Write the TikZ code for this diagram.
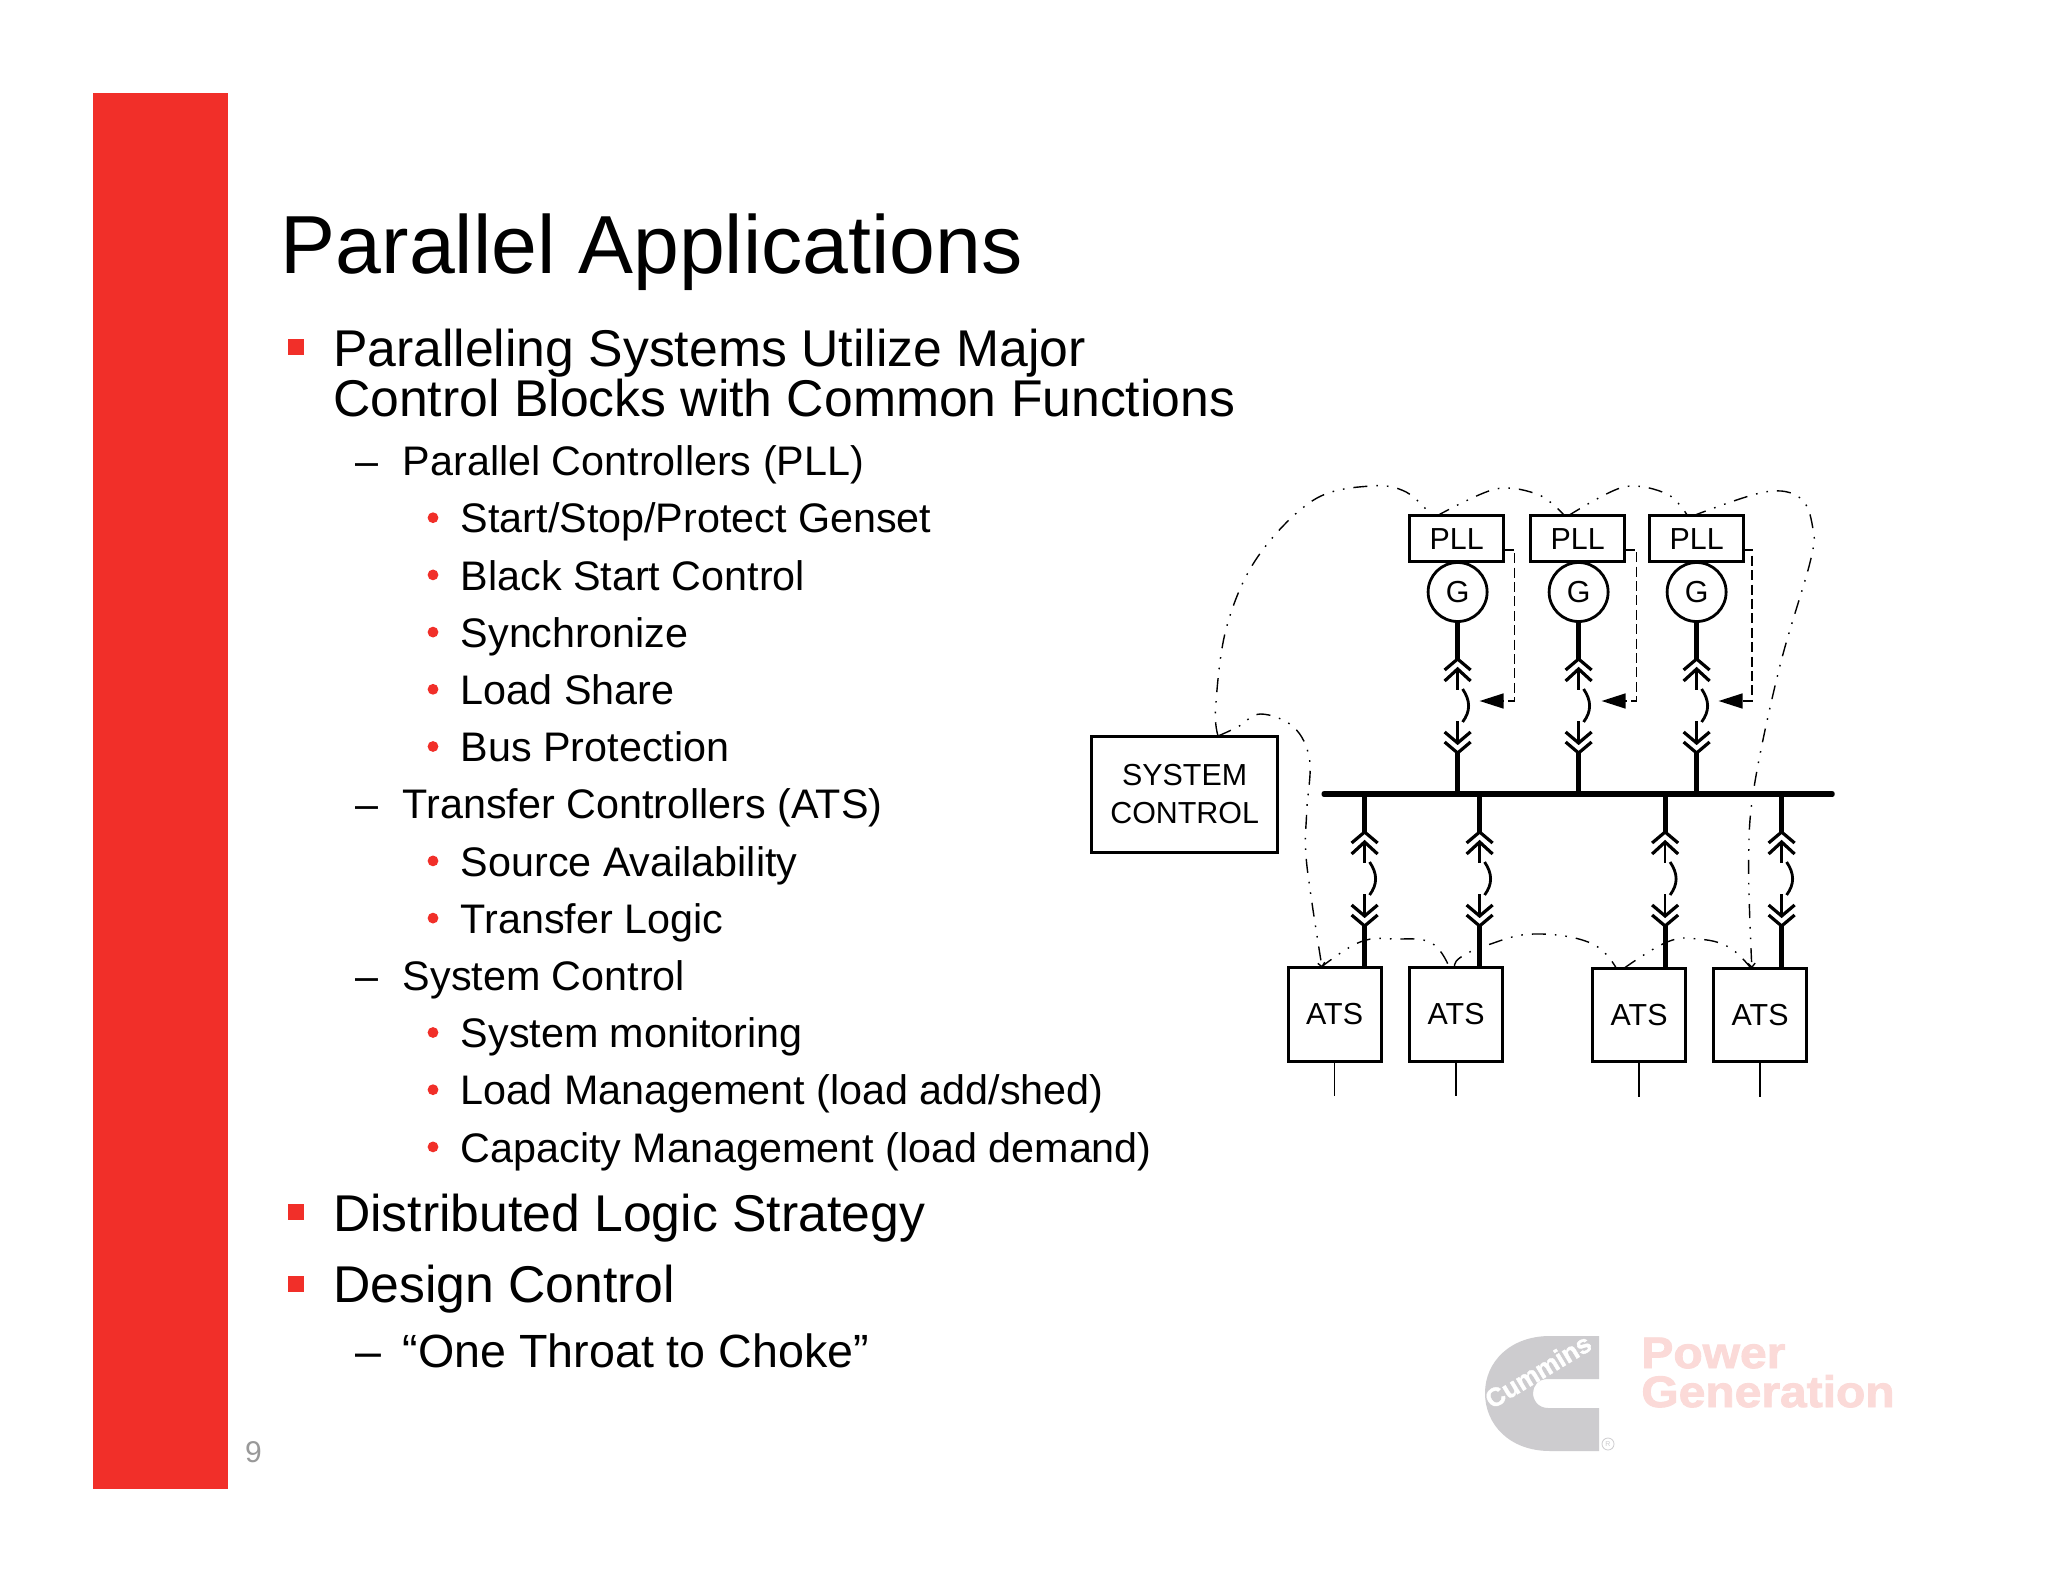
\documentclass[tikz,border=0pt]{standalone}
\usepackage{fontspec}
\setmainfont{Liberation Sans}
\newfontfamily\heavyfont[FakeBold=2,FakeStretch=1.09]{Liberation Sans Bold}
\newfontfamily\logofont[FakeBold=1.5]{Liberation Sans Bold}
\usetikzlibrary{arrows.meta,calc}
\definecolor{barred}{HTML}{F12F29}
\definecolor{logogrey}{HTML}{CDCCCF}
\definecolor{logopink}{HTML}{FBDAD8}
\tikzset{
  titletext/.style={anchor=base west,inner sep=0pt,font=\fontsize{41.2pt}{41.2pt}\selectfont},
  lone/.style={anchor=base west,inner sep=0pt,yshift=-.4pt,font=\fontsize{25.85pt}{25.85pt}\selectfont},
  ltwo/.style={anchor=base west,inner sep=0pt,yshift=-.6pt,font=\fontsize{20.65pt}{20.65pt}\selectfont},
  lthree/.style={anchor=base west,inner sep=0pt,yshift=-.6pt,font=\fontsize{20.65pt}{20.65pt}\selectfont},
  lbig/.style={anchor=base west,inner sep=0pt,yshift=-.6pt,font=\fontsize{23.3pt}{23.3pt}\selectfont},
  sqbullet/.style={fill=barred,inner sep=0pt,minimum width=8pt,minimum height=8pt},
  rdbullet/.style={circle,fill=barred,inner sep=0pt,minimum size=5.4pt},
  blockbox/.style={draw,line width=1.5pt,inner sep=0pt,outer sep=0pt,align=center,font=\fontsize{15.2pt}{18.7pt}\selectfont},
  pllbox/.style={blockbox,minimum width=47pt,minimum height=23pt},
  atsbox/.style={blockbox,minimum width=46.5pt,minimum height=46.7pt},
  sysbox/.style={blockbox,minimum width=93pt,minimum height=58pt},
  gencircle/.style={circle,draw,line width=1.4pt,inner sep=0pt,outer sep=0pt,minimum size=29.5pt,font=\fontsize{15.2pt}{15.2pt}\selectfont},
  busbar/.style={fill=black,rounded corners=1pt,inner sep=0pt,outer sep=0pt,minimum width=256.5pt,minimum height=2.8pt},
  feeder/.style={line width=2.5pt},
  stub/.style={line width=.7pt},
  ctlline/.style={line width=.75pt,dash pattern=on 5pt off 2.2pt},
  commline/.style={line width=.7pt,dash pattern=on 7pt off 4.5pt on .8pt off 4.5pt on .8pt off 4.5pt},
  breaker/.pic={
    \draw[line width=1.6pt] (-13,11)--(0,0)--(13,11);
    \draw[line width=1.6pt] (-13,22)--(0,10)--(13,22);
    \draw[line width=1.2pt] (0,10)--(0,31);
    \draw[line width=1.4pt] (5,30) .. controls (13,42) and (13,52) .. (5,63);
    \draw[line width=1.2pt] (0,62)--(0,84);
    \draw[line width=1.6pt] (-13,73)--(0,84)--(13,73);
    \draw[line width=1.6pt] (-13,83)--(0,94)--(13,83);
  }
}
\begin{document}
\begin{tikzpicture}[x=0.5pt,y=-0.5pt]
\useasboundingbox (0,0) rectangle (2048,1582);
\fill[white] (0,0) rectangle (2048,1582);
\fill[barred] (93,93) rectangle (227.5,1489);
\node[anchor=base,inner sep=0pt,text=black!40,font=\fontsize{15pt}{15pt}\selectfont] (pagenum) at (253.5,1462) {9};

\node[titletext] (title) at (280.4,274) {Parallel Applications};

\node[sqbullet] (b1) at (296.3,347) {};
\node[lone] (t1a) at (332.7,366) {Paralleling Systems Utilize Major};
\node[lone] (t1b) at (332.7,416) {Control Blocks with Common Functions};
\node[ltwo] (d1) at (355,474.5) {–};
\node[ltwo] (t2) at (402.4,474.5) {Parallel Controllers (PLL)};
\node[rdbullet] (b3) at (433,517.7) {};
\node[lthree] (t3) at (460.4,531.7) {Start/Stop/Protect Genset};
\node[rdbullet] (b4) at (433,574.9) {};
\node[lthree] (t4) at (460.4,588.9) {Black Start Control};
\node[rdbullet] (b5) at (433,632.1) {};
\node[lthree] (t5) at (460.4,646.1) {Synchronize};
\node[rdbullet] (b6) at (433,689.3) {};
\node[lthree] (t6) at (460.4,703.3) {Load Share};
\node[rdbullet] (b7) at (433,746.5) {};
\node[lthree] (t7) at (460.4,760.5) {Bus Protection};
\node[ltwo] (d2) at (355,817.7) {–};
\node[ltwo] (t8) at (402.4,817.7) {Transfer Controllers (ATS)};
\node[rdbullet] (b9) at (433,860.9) {};
\node[lthree] (t9) at (460.4,874.9) {Source Availability};
\node[rdbullet] (b10) at (433,918.1) {};
\node[lthree] (t10) at (460.4,932.1) {Transfer Logic};
\node[ltwo] (d3) at (355,989.3) {–};
\node[ltwo] (t11) at (402.4,989.3) {System Control};
\node[rdbullet] (b12) at (433,1032.5) {};
\node[lthree] (t12) at (460.4,1046.5) {System monitoring};
\node[rdbullet] (b13) at (433,1089.7) {};
\node[lthree] (t13) at (460.4,1103.7) {Load Management (load add/shed)};
\node[rdbullet] (b14) at (433,1146.9) {};
\node[lthree] (t14) at (460.4,1160.9) {Capacity Management (load demand)};
\node[sqbullet] (b15) at (296.3,1212.2) {};
\node[lone] (t15) at (332.7,1231) {Distributed Logic Strategy};
\node[sqbullet] (b16) at (296.3,1283.5) {};
\node[lone] (t16) at (332.7,1301.7) {Design Control};
\node[lbig] (d4) at (355,1366.7) {–};
\node[lbig] (t17) at (402.4,1366.7) {“One Throat to Choke”};

\begin{scope}[xshift=-.7pt]
% diagram
\node[pllbox] (pll1) at (1458,539) {PLL};
\node[pllbox] (pll2) at (1579,539) {PLL};
\node[pllbox] (pll3) at (1698,539) {PLL};
\node[gencircle] (g1) at (1459,592) {G};
\node[gencircle] (g2) at (1580,592) {G};
\node[gencircle] (g3) at (1698,592) {G};
\node[busbar] (bus) at (1579.5,794) {};
\node[sysbox] (sys) at (1186,794) {SYSTEM\\CONTROL};
\node[atsbox] (ats1) at (1336,1014.5) {ATS};
\node[atsbox] (ats2) at (1457.5,1014.5) {ATS};
\node[atsbox] (ats3) at (1640.5,1015) {ATS};
\node[atsbox] (ats4) at (1761.5,1015) {ATS};

% generator feeders
\foreach \i/\x in {1/1459,2/1580,3/1698}{
  \coordinate (gt\i) at (\x,659);
  \coordinate (gb\i) at (\x,753);
  \draw[feeder] (g\i) -- (gt\i);
  \draw[feeder] (gb\i) -- (g\i |- bus.center);
  \pic at (gt\i) {breaker};
}
% ATS feeders
\foreach \i/\x in {1/1366,2/1481,3/1666.5,4/1783}{
  \coordinate (at\i) at (\x,832);
  \coordinate (ab\i) at (\x,926);
  \draw[feeder] (at\i |- bus.center) -- (at\i);
  \draw[feeder] (ab\i) -- (ab\i |- ats\i.north);
  \pic at (at\i) {breaker};
}
% stubs
\foreach \i in {1,2,3,4}{
  \coordinate (s\i) at ($(ats\i.south)+(0,35)$);
  \draw[stub] (ats\i.south) -- (s\i);
}
% breaker control
\foreach \i/\x/\t in {1/1516/1481,2/1638/1603,3/1753.5/1720}{
  \coordinate (cc\i) at (\x,701);
  \coordinate (ct\i) at (\t,701);
  \draw[ctlline,-{Triangle[length=12pt,width=7.5pt]}] (pll\i.-13) -| (cc\i) -- (ct\i);
}
% communication loop
\draw[commline] plot[smooth,tension=.6] coordinates {(sys.60) (1217,707) (1228,627) (1259,557) (1315,500) (1372,486) (1407.5,492) (pll1.137)};
\draw[commline] plot[smooth,tension=.55] coordinates {(pll1.131) (1497,489) (1540.6,495) (pll2.119)};
\draw[commline] plot[smooth,tension=.55] coordinates {(pll2.113) (1625,487) (1668.5,494) (pll3.111)};
\draw[commline,-{Straight Barb[length=2pt,width=3.5pt]}] plot[smooth,tension=.6] coordinates {(pll3.100) (1766,492) (1801.6,498) (1814,527) (1812,560) (1781,667) (1755.5,787) (1750,863) (ats4.100)};
\draw[commline,-{Straight Barb[length=2pt,width=3.5pt]}] plot[smooth,tension=.6] coordinates {(sys.60) (1239,727) (1262,714) (1295,727) (1311,760) (1308,813) (1308,863) (ats1.105)};
\draw[commline] plot[smooth,tension=.7] coordinates {(ats1.107) (1361.5,942) (1397,939) (1433,943) (ats2.98)};
\draw[commline] plot[smooth,tension=.7] coordinates {(ats2.92) (1461,958) (1489,945) (1535.5,934) (1592,943) (ats3.116)};
\draw[commline] plot[smooth,tension=.7] coordinates {(ats3.108) (1668.5,942) (1699,939) (1730,947) (ats4.101)};
\end{scope}

% logo
\fill[logogrey] (1599,1336) -- (1550,1336) .. controls (1510,1336) and (1485,1362) .. (1485,1393)
  .. controls (1485,1425) and (1510,1451) .. (1550,1451) -- (1599,1451) -- (1599,1408) -- (1548,1408)
  .. controls (1538,1408) and (1533,1400) .. (1533,1393) .. controls (1533,1386) and (1538,1379) .. (1548,1379) -- (1599,1379) -- cycle;
\node[text=white,inner sep=0pt,font=\logofont\fontsize{13pt}{13pt}\selectfont,rotate=31] (cummins) at (1538,1371) {Cummins};
\node[circle,draw=logogrey,line width=.4pt,inner sep=0pt,minimum size=6pt,text=logogrey,font=\fontsize{3.5pt}{3.5pt}\selectfont] (reg) at (1608,1444) {R};
\node[anchor=base west,inner sep=0pt,text=logopink,font=\heavyfont\fontsize{22pt}{22pt}\selectfont] (lg1) at (1641,1368) {Power};
\node[anchor=base west,inner sep=0pt,text=logopink,font=\heavyfont\fontsize{22pt}{22pt}\selectfont] (lg2) at (1641,1407) {Generation};
\end{tikzpicture}
\end{document}
